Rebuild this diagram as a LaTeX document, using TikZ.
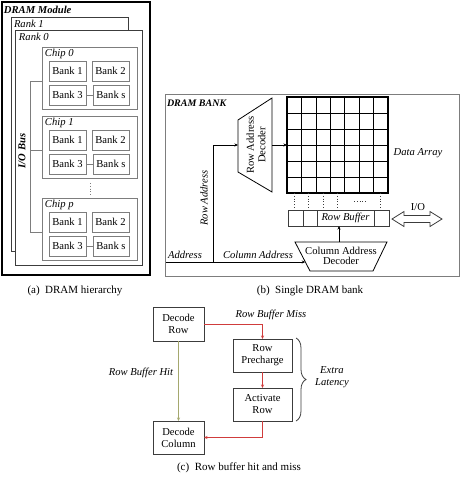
\documentclass[tikz,border=0pt]{standalone}
\usepackage{fontspec}
\setmainfont{Liberation Serif}
\usetikzlibrary{arrows.meta,decorations.pathreplacing,calc}
\definecolor{mred}{RGB}{208,60,60}
\definecolor{mgreen}{RGB}{165,168,110}
\definecolor{lgray}{RGB}{125,125,125}
\definecolor{dgray}{RGB}{60,60,60}
\begin{document}
\begin{tikzpicture}[x=1pt,y=-1pt,
  every node/.style={inner sep=0pt,outer sep=0pt,font=\fontsize{10.6}{11.5}\selectfont},
  txt/.style={font=\fontsize{10.6}{11.5}\selectfont\itshape},
  btxt/.style={font=\fontsize{10.6}{11.5}\selectfont\bfseries\itshape},
  rankbox/.style={draw=dgray,fill=white,line width=0.8pt,anchor=north west},
  chipbox/.style={draw=lgray,fill=white,line width=0.8pt,anchor=north west,minimum width=95,minimum height=62},
  bankbox/.style={draw=lgray,line width=0.8pt,anchor=north west,minimum width=37,minimum height=20},
  cell/.style={draw=dgray,line width=0.8pt,anchor=north west,minimum height=16},
  fbox/.style={draw=dgray,line width=0.8pt,align=center,font=\fontsize{10.6}{12}\selectfont},
  arr/.style={-{Stealth[length=3.5pt,width=3pt]},line width=0.8pt},
  captxt/.style={font=\fontsize{11}{12}\selectfont}]
\useasboundingbox (0,0) rectangle (474,491);

% ---------------- (a) DRAM hierarchy
\node[draw,line width=2pt,anchor=north west,minimum width=148,minimum height=273] (module) at (1.5,1.5) {};
\node[btxt,anchor=west] (modlbl) at (4,9.5) {DRAM Module};
\node[rankbox,minimum width=117,minimum height=234] (rank1) at (11,17) {};
\node[txt,anchor=west] (rank1lbl) at (14,24) {Rank 1};
\node[rankbox,minimum width=127,minimum height=235] (rank0) at (15,30) {};
\node[txt,anchor=west] (rank0lbl) at (19,37) {Rank 0};
\foreach \t/\n in {47/0,116/1,198/p}{
  \node[chipbox] (chip\n) at (42,\t) {};
  \node[txt,anchor=west] (chiplbl\n) at (45,\t+7) {Chip \n};
  \node[bankbox] (bA\n) at (49,\t+14) {Bank 1};
  \node[bankbox] (bB\n) at (92,\t+14) {Bank 2};
  \node[bankbox] (bC\n) at (49,\t+38) {Bank 3};
  \node[bankbox,minimum width=36] (bD\n) at (93,\t+38) {Bank s};
  \draw[lgray,line width=0.8pt] (bC\n) -- (bD\n);
  \coordinate (stub\n) at (30,\t+34);
  \draw[lgray,line width=0.8pt] (stub\n) -- (stub\n -| chip\n.west);
}
\draw[lgray,line width=0.8pt] (stub0) -- (stubp);
\draw[lgray,line width=0.8pt,dotted] (90,183) -- (90,195);
\node[btxt,rotate=90] (iobus) at (22,151) {I/O Bus};
\node[captxt] (capa) at (75,291) {(a)\enspace DRAM hierarchy};

% ---------------- (b) Single DRAM bank
\node[draw=lgray,line width=1pt,anchor=north west,minimum width=294,minimum height=182] (bank) at (165,94) {};
\node[anchor=west,font=\fontsize{10}{11}\selectfont\bfseries\itshape] (banklbl) at (167,103) {DRAM BANK};
% row address decoder
\coordinate (rd1) at (238,120);
\coordinate (rd2) at (272,98);
\coordinate (rd3) at (272,192);
\coordinate (rd4) at (238,172);
\draw[line width=0.8pt] (rd1) -- (rd2) -- (rd3) -- (rd4) -- cycle;
\node[rotate=90,align=center] (rdtext) at (256,145) {Row Address\\Decoder};
% data array
\node[draw,line width=1.6pt,anchor=north west,minimum width=101,minimum height=96] (array) at (287,97) {};
\foreach \i in {1,...,6} \draw[line width=0.55pt] (287+\i*101/7,97) -- ++(0,96);
\foreach \j in {1,...,5} \draw[line width=0.55pt] (287,97+\j*16) -- ++(101,0);
\node[txt] (dalbl) at (418,153) {Data Array};
\coordinate (rdout) at (272,145);
\draw[arr] (rdout) -- (array.west);
% row buffer
\node[cell,minimum width=15] (rb1) at (288,210) {};
\node[cell,minimum width=14] (rb2) at (303,210) {};
\node[cell,minimum width=57,txt] (rb3) at (317,210) {Row Buffer};
\node[cell,minimum width=15] (rb4) at (374,210) {};
\foreach \i in {0,1,2,3,6} \draw[dgray,line width=0.8pt,dotted] (287+\i*101/7+101/14,193) -- (287+\i*101/7+101/14,210);
\draw[dgray,line width=0.8pt,dotted] (354,201) -- (366,201);
% column address decoder
\coordinate (cd1) at (295,242);
\coordinate (cd2) at (387,242);
\coordinate (cd3) at (373,271);
\coordinate (cd4) at (310,271);
\draw[line width=0.8pt] (cd1) -- (cd2) -- (cd3) -- (cd4) -- cycle;
\node[align=center,font=\fontsize{10.6}{10.5}\selectfont] (cdtext) at (341,256) {Column Address\\Decoder};
\coordinate (cdtop) at (339,242);
\draw[arr] (cdtop) -- (cdtop |- rb3.south);
% address lines
\coordinate (addrstart) at (166,262);
\coordinate (cdleft) at (305.3,262);
\coordinate (branch) at (213,262);
\coordinate (rdin) at (238,145);
\draw[arr] (addrstart) -- (cdleft);
\draw[arr] (branch) -- (branch |- rdin) -- (rdin);
\node[txt] (addrlbl) at (185,255) {Address};
\node[txt] (coladdr) at (258,255) {Column Address};
\node[txt,rotate=90] (rowaddr) at (204,198) {Row Address};
% I/O arrow
\draw[dgray,line width=0.8pt] (392,219) coordinate (ioL) -- (404,211.5) -- (404,215.5) -- (430,215.5) -- (430,211.5) -- (442,219) coordinate (ioR) -- (430,226.5) -- (430,222.5) -- (404,222.5) -- (404,226.5) -- cycle;
\node (iolbl) at (418,207) {I/O};
\node[captxt] (capb) at (310,291) {(b)\enspace Single DRAM bank};

% ---------------- (c) Row buffer hit and miss
\node[fbox,minimum width=51,minimum height=34] (drow) at (178.5,324) {Decode\\Row};
\node[fbox,minimum width=59,minimum height=33] (prech) at (262.5,355.5) {Row\\Precharge};
\node[fbox,minimum width=59,minimum height=33] (act) at (262.5,404.5) {Activate\\Row};
\node[fbox,minimum width=51,minimum height=33] (dcol) at (178.5,437.5) {Decode\\Column};
\draw[arr,mred] (drow.east) -| (prech.north);
\draw[arr,mred] (prech) -- (act);
\draw[arr,mred] (act.south) |- (dcol.east);
\draw[arr,mgreen] (drow) -- (dcol);
\node[txt] (misslbl) at (271,315) {Row Buffer Miss};
\node[txt] (hitlbl) at (141,373) {Row Buffer Hit};
\draw[dgray,line width=0.8pt,decorate,decoration={brace,amplitude=10pt}] (296,338) coordinate (brtop) -- (296,421) coordinate (brbot);
\node[txt,align=center] (extra) at (332,377) {Extra\\Latency};
\node[captxt] (capc) at (239,468) {(c)\enspace Row buffer hit and miss};
\end{tikzpicture}
\end{document}
